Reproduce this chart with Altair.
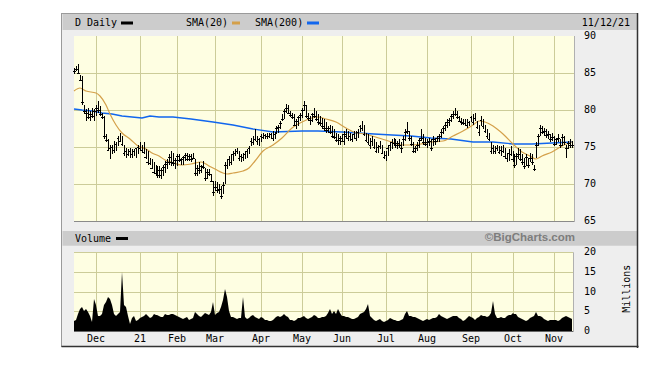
import altair as alt
import pandas as pd

# ---------------- data (trading-day index 0 = 2020-11-13) ----------------
HIGH = [
    85.7, 85.9, 86.2, 84.7, 84.6, 80.7, 80.1, 80.3, 79.8, 80.3,
    80.1, 80.7, 81.2, 80.5, 79.6, 79.2, 76.7, 76.0, 75.3, 75.3,
    75.8, 75.6, 76.5, 76.9, 76.5, 75.3, 74.9, 74.7, 74.9, 74.7,
    74.7, 74.9, 75.3, 75.6, 75.3, 75.6, 74.7, 74.4, 73.5, 73.3,
    72.9, 72.6, 72.4, 72.4, 72.2, 72.6, 73.1, 73.3, 74.0, 74.4,
    74.2, 73.5, 74.0, 74.0, 73.5, 73.8, 74.2, 74.2, 74.0, 74.0,
    74.2, 73.3, 72.6, 72.9, 72.6, 73.1, 72.2, 72.0, 72.0, 71.3,
    70.4, 70.4, 70.2, 69.9, 69.7, 70.2, 72.9, 73.3, 73.8, 74.0,
    74.4, 74.7, 74.9, 74.4, 74.0, 74.2, 74.4, 74.7, 75.1, 76.2,
    76.5, 77.4, 76.5, 76.2, 76.7, 76.9, 76.7, 76.9, 76.9, 76.9,
    77.1, 77.0, 77.8, 78.0, 78.5, 79.4, 80.1, 80.8, 80.7, 79.8,
    79.6, 79.4, 78.7, 79.2, 79.6, 80.3, 81.2, 80.7, 79.6, 79.2,
    79.6, 80.3, 79.8, 79.4, 79.2, 78.9, 78.7, 78.3, 77.8, 78.0,
    77.8, 77.4, 76.9, 76.7, 76.5, 76.7, 77.1, 77.4, 77.1, 76.9,
    76.7, 77.1, 77.1, 77.4, 78.0, 78.5, 78.0, 76.9, 76.7, 76.2,
    76.5, 76.0, 75.6, 75.3, 75.8, 75.3, 74.4, 74.4, 75.1, 75.6,
    76.0, 76.2, 76.0, 75.8, 76.0, 75.6, 76.5, 77.4, 78.3, 77.1,
    76.5, 75.6, 75.1, 75.6, 76.2, 77.4, 76.7, 76.2, 76.0, 76.2,
    76.0, 76.5, 76.2, 76.5, 76.7, 77.4, 77.8, 78.3, 78.7, 78.9,
    79.4, 79.8, 80.3, 79.8, 79.2, 78.9, 78.7, 78.7, 78.7, 78.5,
    79.2, 79.4, 79.6, 78.5, 78.0, 79.2, 78.7, 78.0, 77.4, 76.9,
    75.6, 75.3, 75.1, 75.3, 75.1, 75.1, 75.3, 74.9, 74.2, 74.7,
    75.1, 74.4, 74.0, 74.2, 74.9, 74.7, 74.0, 73.5, 74.0, 73.5,
    74.2, 74.0, 72.6, 75.6, 76.7, 78.0, 77.8, 77.6, 77.4, 77.1,
    76.7, 76.9, 76.5, 76.2, 76.7, 76.0, 76.7, 76.5, 75.3, 75.8,
    76.0, 75.8,
]
LOW = [
    84.9, 85.2, 84.8, 83.9, 80.7, 79.4, 78.5, 78.7, 78.5, 78.9,
    78.5, 79.2, 79.6, 79.2, 78.7, 76.0, 75.6, 74.4, 73.3, 74.0,
    74.2, 74.4, 75.1, 75.6, 75.1, 73.8, 73.5, 73.8, 73.5, 73.5,
    73.8, 73.5, 74.0, 74.4, 74.2, 74.0, 73.3, 72.6, 72.6, 72.0,
    71.3, 71.1, 70.8, 70.8, 70.6, 71.1, 71.5, 72.0, 72.6, 72.4,
    72.4, 72.0, 72.4, 72.9, 72.6, 72.6, 73.1, 73.1, 73.1, 72.9,
    73.3, 71.1, 71.1, 71.3, 71.5, 72.0, 70.4, 70.6, 71.1, 70.2,
    68.4, 69.0, 68.8, 68.6, 67.9, 68.6, 69.9, 72.0, 72.4, 72.6,
    73.1, 73.8, 74.0, 73.1, 72.9, 73.1, 73.3, 73.5, 74.0, 75.1,
    75.3, 75.8, 75.3, 75.1, 75.6, 76.0, 76.0, 76.0, 76.2, 76.0,
    75.8, 76.0, 76.7, 76.9, 77.4, 78.5, 78.7, 79.6, 79.4, 79.0,
    78.7, 77.8, 77.4, 77.8, 78.5, 78.9, 79.8, 78.9, 78.5, 78.0,
    78.3, 78.9, 78.5, 78.0, 77.8, 77.4, 77.1, 76.9, 76.9, 76.7,
    76.2, 76.0, 75.6, 75.3, 75.3, 75.6, 75.3, 76.0, 75.8, 75.8,
    75.6, 76.0, 75.8, 76.2, 77.0, 77.1, 76.5, 75.6, 75.3, 74.7,
    75.1, 74.7, 74.2, 74.2, 74.7, 74.0, 73.3, 73.1, 73.8, 74.4,
    74.7, 75.1, 74.9, 74.7, 74.9, 74.2, 75.1, 75.8, 76.7, 75.8,
    75.1, 74.2, 74.2, 74.4, 74.9, 75.8, 75.3, 75.1, 74.9, 75.1,
    74.4, 75.1, 75.3, 75.6, 75.6, 76.2, 76.7, 77.1, 77.6, 77.8,
    78.3, 78.7, 79.2, 78.7, 78.3, 78.0, 78.0, 77.8, 77.6, 77.8,
    78.3, 78.0, 78.5, 77.4, 76.5, 77.8, 77.4, 76.9, 76.0, 75.8,
    74.0, 74.0, 74.0, 74.4, 74.0, 73.8, 74.2, 73.5, 72.9, 73.1,
    73.8, 72.9, 72.2, 72.6, 73.3, 73.1, 72.6, 72.0, 72.4, 72.2,
    72.9, 72.6, 71.7, 73.5, 75.1, 76.5, 76.7, 76.5, 76.2, 76.0,
    75.6, 75.8, 75.1, 75.3, 75.6, 74.9, 75.1, 75.3, 73.5, 74.7,
    74.9, 74.9,
]
CLOSE = [
    85.3, 85.6, 85.0, 84.1, 81.0, 79.8, 79.6, 79.0, 79.5, 79.2,
    79.8, 80.2, 80.0, 79.4, 79.0, 76.4, 75.9, 74.6, 74.8, 75.0,
    74.6, 75.4, 76.2, 75.8, 75.4, 74.1, 74.5, 74.0, 74.4, 74.0,
    74.5, 74.8, 75.0, 74.8, 74.6, 74.3, 73.6, 73.0, 72.8, 72.2,
    71.6, 71.4, 71.8, 71.2, 71.9, 72.3, 72.7, 72.9, 73.6, 73.0,
    72.8, 73.2, 73.8, 73.2, 73.3, 73.6, 73.9, 73.4, 73.8, 73.4,
    73.5, 71.5, 72.2, 71.8, 72.4, 72.3, 70.8, 71.6, 71.3, 70.4,
    68.9, 69.6, 69.2, 69.3, 68.4, 69.8, 72.5, 72.6, 73.4, 73.0,
    74.0, 74.2, 74.4, 73.5, 73.8, 73.6, 74.0, 74.5, 74.8, 75.8,
    75.6, 76.0, 75.8, 76.0, 76.4, 76.3, 76.6, 76.4, 76.5, 76.8,
    76.2, 76.8, 77.5, 77.7, 78.2, 78.8, 79.8, 80.2, 79.6, 79.3,
    79.0, 78.0, 78.5, 79.0, 79.3, 80.0, 80.6, 79.2, 78.9, 78.6,
    79.4, 79.2, 78.8, 78.4, 78.2, 77.8, 77.5, 77.3, 77.6, 77.0,
    76.5, 76.3, 75.9, 75.9, 76.2, 75.8, 76.8, 76.5, 76.2, 76.4,
    76.0, 76.7, 76.2, 77.0, 77.8, 77.5, 76.8, 75.9, 75.6, 75.2,
    75.8, 75.0, 74.5, 75.0, 75.1, 74.2, 73.6, 73.9, 74.8, 75.2,
    75.6, 75.5, 75.3, 75.5, 75.2, 74.8, 76.0, 77.0, 77.1, 76.2,
    75.4, 74.5, 74.9, 75.3, 75.9, 76.2, 75.7, 75.4, 75.6, 75.8,
    74.9, 76.0, 75.8, 76.2, 76.5, 77.0, 77.6, 78.0, 78.3, 78.6,
    79.2, 79.5, 79.4, 79.0, 78.5, 78.4, 78.2, 78.2, 78.0, 78.3,
    79.0, 78.4, 78.9, 77.7, 77.0, 78.6, 77.8, 77.2, 76.4, 76.0,
    74.4, 74.8, 74.5, 74.9, 74.3, 74.6, 74.4, 73.8, 73.5, 74.2,
    74.0, 73.3, 72.6, 73.8, 74.0, 73.4, 72.9, 72.4, 73.6, 72.6,
    73.5, 73.0, 72.0, 75.2, 76.5, 77.6, 77.0, 77.2, 76.6, 76.8,
    76.0, 76.3, 75.4, 76.0, 76.2, 75.2, 76.3, 75.6, 74.9, 75.5,
    75.2, 75.3,
]
VOLUME = [  # millions of shares
    2.6, 2.8, 4.3, 5.6, 6.1, 5.2, 5.6, 4.8, 3.9, 2.2,
    8.2, 6.5, 3.9, 3.7, 4.3, 6.5, 7.4, 8.7, 8.2, 6.5,
    4.3, 3.9, 4.3, 4.8, 15.0, 6.5, 6.1, 3.9, 1.7, 3.2,
    3.7, 2.6, 2.9, 3.2, 3.5, 3.9, 4.3, 3.9, 3.2, 3.6,
    4.3, 4.1, 4.0, 3.9, 3.6, 3.5, 4.3, 4.0, 4.1, 4.2,
    4.3, 4.0, 3.9, 3.5, 3.2, 3.0, 3.3, 3.5, 2.9, 3.1,
    3.2, 4.8, 4.3, 3.8, 3.5, 4.0, 4.6, 4.2, 4.1, 4.9,
    7.4, 4.1, 4.5, 4.8, 6.1, 7.8, 10.8, 8.7, 5.2, 3.5,
    3.5, 3.2, 3.0, 3.2, 3.3, 8.7, 3.5, 3.0, 3.4, 3.7,
    4.1, 3.5, 3.2, 3.0, 3.5, 3.3, 2.9, 2.8, 2.6, 2.6,
    2.8, 3.2, 3.6, 3.9, 3.5, 3.8, 4.3, 3.9, 3.5, 2.8,
    2.7, 2.6, 2.9, 3.2, 3.2, 3.5, 3.9, 3.4, 3.0, 3.3,
    3.5, 4.1, 3.7, 3.2, 3.4, 3.5, 3.6, 3.7, 4.6, 5.5,
    4.3, 5.2, 4.3, 5.6, 4.6, 3.9, 3.7, 3.5, 3.5, 3.2,
    3.1, 3.0, 3.2, 3.5, 4.3, 4.5, 4.8, 5.6, 6.9, 3.9,
    3.2, 2.9, 2.6, 2.8, 3.0, 2.5, 2.2, 2.6, 2.9, 3.2,
    3.0, 2.9, 2.7, 2.6, 2.6, 2.8, 3.0, 4.3, 5.2, 3.9,
    3.7, 3.5, 3.5, 3.2, 3.0, 2.8, 2.6, 2.8, 3.0, 2.9,
    3.0, 3.2, 3.4, 3.5, 4.3, 3.9, 3.5, 3.2, 3.0, 3.3,
    3.5, 3.9, 3.8, 3.7, 3.2, 3.0, 2.6, 2.9, 3.2, 3.9,
    3.5, 3.2, 2.9, 3.2, 3.5, 4.1, 3.9, 3.7, 3.5, 3.8,
    4.6, 7.5, 4.3, 3.2, 3.4, 3.5, 3.2, 3.4, 3.7, 4.1,
    4.0, 4.6, 4.4, 4.3, 3.6, 3.2, 3.0, 2.9, 2.6, 2.9,
    3.2, 3.5, 3.8, 4.9, 3.9, 3.7, 3.5, 3.0, 2.8, 2.6,
    2.7, 2.8, 2.9, 2.8, 2.6, 2.9, 3.2, 3.6, 3.9, 3.5,
    3.2, 3.0,
]
SMA20_IDX = [0, 3, 6, 11, 13, 16, 18, 21, 24, 28, 32, 36, 39, 43, 46, 49, 54, 59, 64, 68,
             71, 75, 77, 80, 85, 88, 91, 95, 100, 105, 110, 115, 120, 123, 127, 132, 137,
             142, 147, 150, 155, 160, 165, 170, 175, 180, 186, 191, 196, 201, 204, 207,
             211, 216, 221, 226, 230, 233, 236, 241, 246, 251]
SMA20_VAL = [82.5, 83.0, 82.6, 82.3, 81.9, 80.7, 79.4, 78.0, 76.9, 76.0, 75.1, 74.7, 74.2,
             73.8, 73.2, 72.9, 72.6, 72.7, 72.9, 72.4, 72.0, 71.5, 71.3, 71.4, 71.7, 72.2,
             73.1, 74.4, 75.2, 76.2, 77.5, 78.3, 78.9, 79.0, 78.7, 78.3, 77.5, 76.9, 76.7,
             76.5, 76.0, 75.6, 75.2, 75.2, 75.4, 75.6, 75.8, 76.4, 77.2, 78.0, 78.5, 78.3,
             77.8, 76.8, 75.4, 74.3, 73.8, 73.4, 73.8, 74.3, 75.1, 75.7]
SMA200_IDX = [0, 4, 9, 14, 19, 24, 29, 34, 38, 43, 50, 59, 70, 80, 90, 100, 115, 123, 135,
              151, 160, 170, 180, 190, 201, 211, 221, 231, 241, 251]
SMA200_VAL = [80.1, 80.0, 79.8, 79.6, 79.4, 79.2, 79.0, 78.95, 79.15, 79.1, 79.05, 78.8, 78.4,
              78.0, 77.4, 77.0, 77.2, 77.1, 77.0, 76.8, 76.6, 76.5, 76.2, 76.0, 75.7, 75.6,
              75.4, 75.4, 75.5, 75.6]
MONTH_IDX = [11, 33, 52, 71, 94, 115, 135, 157, 178, 200, 221, 242]
MONTH_LABELS = ["Dec", "21", "Feb", "Mar", "Apr", "May", "Jun", "Jul", "Aug", "Sep", "Oct", "Nov"]
PRICE_TICKS = [65, 70, 75, 80, 85, 90]
PRICE_GRID = [70, 75, 80, 85]
VOL_TICKS = [0, 5, 10, 15, 20]
VOL_GRID = [5, 10, 15, 20]

# ---------------- tables ----------------
n = len(HIGH)
bars = pd.DataFrame({"i": list(range(n)), "high": HIGH, "low": LOW, "close": CLOSE})
vol = pd.DataFrame({"i": list(range(len(VOLUME))), "vol": VOLUME})
sma20 = pd.DataFrame({"i": SMA20_IDX, "v": SMA20_VAL})
sma200 = pd.DataFrame({"i": SMA200_IDX, "v": SMA200_VAL})
months = pd.DataFrame({"i": MONTH_IDX, "label": MONTH_LABELS})
one = pd.DataFrame({"k": [0]})

FONT = "DejaVu Sans Mono"
GRID = "#cccc99"
PLOT_BG = "#fefee2"
PANEL_BG = "#eeeeee"
HEAD_BG = "#cccccc"
C20 = "#d4a04a"
C200 = "#1166ee"

# plot rectangles (chart pixel coordinates, page = chart + 8)
PX0, PX1 = 66, 566
PY0, PY1 = 28, 213
VY0, VY1 = 244.3, 323


def xs():
    return alt.Scale(domain=[-1, 252], range=[64.2, 566.0], nice=False, zero=False, round=True)


def ps():
    return alt.Scale(domain=[65, 90], range=[212.7, 28.0], nice=False, zero=False, round=True)


def vs():
    return alt.Scale(domain=[0, 20], range=[323.0, 244.3], nice=False, zero=False, round=True)


def box(x, x2, y, y2, color):
    return alt.Chart(one).mark_rect(color=color).encode(
        x=alt.value(x), x2=alt.value(x2), y=alt.value(y), y2=alt.value(y2))


def hline(x, x2, y, color, w=1.0):
    return alt.Chart(one).mark_rule(color=color, strokeWidth=w).encode(
        x=alt.value(x), x2=alt.value(x2), y=alt.value(y))


def vline(x, y, y2, color, w=1.0):
    return alt.Chart(one).mark_rule(color=color, strokeWidth=w).encode(
        x=alt.value(x), y=alt.value(y), y2=alt.value(y2))


def label(text, x, y, align="left", size=10, color="black", weight="normal", font=FONT, angle=0):
    return alt.Chart(one).mark_text(
        text=text, align=align, baseline="middle", fontSize=size, color=color,
        fontWeight=weight, font=font, angle=angle).encode(x=alt.value(x), y=alt.value(y))


def X(f="i:Q"):
    return alt.X(f, scale=xs(), axis=None)


layers = []
# frame and panel backgrounds
layers.append(box(54, 630, 5, 339, PANEL_BG))
layers.append(box(54.5, 629, 6, 22, HEAD_BG))
layers.append(box(54.5, 629, 223, 237.7, HEAD_BG))
layers.append(box(PX0, PX1, PY0, PY1, PLOT_BG))
layers.append(box(PX0, PX1 - 1, VY0, VY1, PLOT_BG))

# grid lines
layers.append(alt.Chart(pd.DataFrame({"p": PRICE_GRID})).mark_rule(color=GRID, yOffset=0.5).encode(
    y=alt.Y("p:Q", scale=ps(), axis=None), x=alt.value(PX0), x2=alt.value(PX1)))
layers.append(alt.Chart(pd.DataFrame({"p": VOL_GRID})).mark_rule(color=GRID, yOffset=0.5).encode(
    y=alt.Y("p:Q", scale=vs(), axis=None), x=alt.value(PX0), x2=alt.value(PX1 - 1)))
layers.append(alt.Chart(months).mark_rule(color=GRID, xOffset=0.5).encode(
    x=X(), y=alt.value(PY0), y2=alt.value(PY1)))
layers.append(alt.Chart(months).mark_rule(color=GRID, xOffset=0.5).encode(
    x=X(), y=alt.value(VY0), y2=alt.value(VY1)))

# volume area
layers.append(alt.Chart(vol).mark_area(color="black", interpolate="linear").encode(
    x=X(), y=alt.Y("vol:Q", scale=vs(), axis=None)))

# moving averages
layers.append(alt.Chart(sma200).mark_line(color=C200, strokeWidth=1.3).encode(
    x=X(), y=alt.Y("v:Q", scale=ps(), axis=None)))
layers.append(alt.Chart(sma20).mark_line(color=C20, strokeWidth=1.2, interpolate="monotone").encode(
    x=X(), y=alt.Y("v:Q", scale=ps(), axis=None)))

# price bars (high-low with close tick)
layers.append(alt.Chart(bars).mark_rule(color="black", xOffset=0.5, strokeWidth=1).encode(
    x=X(), y=alt.Y("low:Q", scale=ps(), axis=None), y2="high:Q"))
layers.append(alt.Chart(bars).transform_calculate(
    il="datum.i - 0.55", ir="datum.i + 0.8").mark_rule(
    color="black", yOffset=0.5, strokeWidth=1).encode(
    x=X("il:Q"), x2="ir:Q", y=alt.Y("close:Q", scale=ps(), axis=None)))

# plot borders
layers.append(hline(PX0, PX1 + 1, PY1 + 0.5, "#8a8a8a", 1))
layers.append(vline(PX1 + 0.5, PY0, PY1 + 1, "#b0b0b0", 1))
layers.append(hline(PX0, PX1, VY1 + 0.5, "#666666", 1))
layers.append(vline(PX1 - 0.5, VY0, VY1 + 1, "#b0b0b0", 1))

# outer frame
layers.append(vline(53.5, 5, 339, "#9a9a9a", 1))
layers.append(hline(53.5, 630, 5.5, "#9a9a9a", 1))
layers.append(vline(629.5, 5, 340, "#333333", 1.5))
layers.append(hline(53.5, 630.5, 338.5, "#333333", 1.5))

# header texts and legend swatches
layers.append(label("D Daily", 67, 14.5))
layers.append(box(113, 125, 13.5, 16.5, "black"))
layers.append(label("SMA(20)", 178, 14.5))
layers.append(box(224, 232, 13.5, 16.5, C20))
layers.append(label("SMA(200)", 247, 14.5))
layers.append(box(299, 311, 13.5, 16.5, C200))
layers.append(label("11/12/21", 622, 14.5, align="right"))
layers.append(label("Volume", 67, 230.5))
layers.append(box(108, 120, 229, 232, "black"))
layers.append(label("©BigCharts.com", 567, 230.3, align="right", size=11.5, color="#7d7d7d",
                    weight="bold", font="Liberation Sans"))

# axis labels (through the scales)
layers.append(alt.Chart(pd.DataFrame({"p": PRICE_TICKS})).mark_text(
    align="left", baseline="middle", font=FONT, fontSize=10, color="black").encode(
    y=alt.Y("p:Q", scale=ps(), axis=None), x=alt.value(576), text="p:Q"))
layers.append(alt.Chart(pd.DataFrame({"p": VOL_TICKS})).mark_text(
    align="left", baseline="middle", font=FONT, fontSize=10, color="black").encode(
    y=alt.Y("p:Q", scale=vs(), axis=None), x=alt.value(576), text="p:Q"))
layers.append(alt.Chart(months).mark_text(
    align="center", baseline="middle", font=FONT, fontSize=10, color="black").encode(
    x=X(), y=alt.value(330.7), text="label:N"))
layers.append(label("Millions", 618.7, 280.7, align="center", angle=270))

chart = alt.layer(*layers).resolve_scale(y="independent").properties(
    width=640, height=350,
    autosize=alt.AutoSizeParams(type="none"),
    padding=0,
    background="white",
).configure_view(stroke=None)

chart.save("out.html", embed_options={"renderer": "svg", "actions": False})
